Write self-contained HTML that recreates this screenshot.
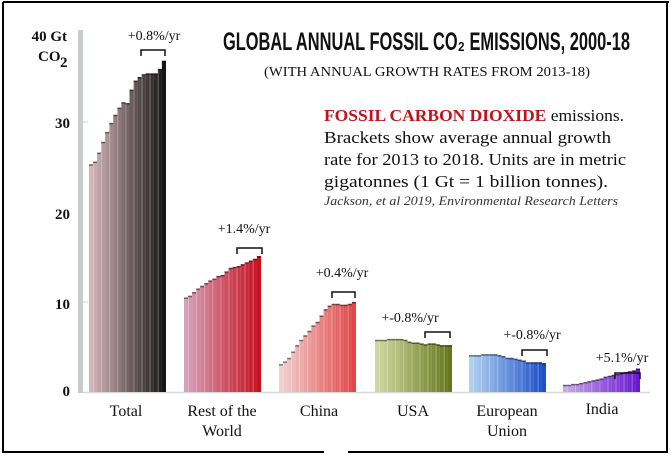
<!DOCTYPE html>
<html><head><meta charset="utf-8"><style>
html,body{margin:0;padding:0;background:#fff}
svg{display:block}
</style></head><body>
<svg id="s" width="671" height="456" viewBox="0 0 671 456" xmlns="http://www.w3.org/2000/svg">
<rect x="0" y="0" width="671" height="456" fill="#fff"/>
<line x1="3" y1="2" x2="669" y2="2" stroke="#000" stroke-width="2"/>
<line x1="3" y1="2" x2="3" y2="453" stroke="#000" stroke-width="2"/>
<line x1="667" y1="2" x2="667" y2="453" stroke="#000" stroke-width="2"/>
<line x1="3" y1="452" x2="324" y2="452" stroke="#000" stroke-width="2"/>
<line x1="348" y1="452" x2="668" y2="452" stroke="#000" stroke-width="2"/>
<rect x="78" y="30" width="5" height="363" fill="#c8cdcb"/>
<line x1="83" y1="392.5" x2="650" y2="392.5" stroke="#d8d8d8" stroke-width="1.5"/>
<line x1="83" y1="302" x2="88" y2="302" stroke="#d0d0d0"/>
<line x1="83" y1="122" x2="88" y2="122" stroke="#d0d0d0"/>
<g id="bars"></g>
<g font-family="Liberation Serif, serif" font-weight="bold" fill="#111">
<text x="67" y="41" font-size="15" text-anchor="end">40 Gt</text>
<text x="38" y="61" font-size="15">CO</text><text x="60" y="67" font-size="15">2</text>
<text x="70" y="128" font-size="15" text-anchor="end">30</text>
<text x="70" y="219" font-size="15" text-anchor="end">20</text>
<text x="70" y="309" font-size="15" text-anchor="end">10</text>
<text x="70" y="396" font-size="15" text-anchor="end">0</text>
</g>
<g font-family="Liberation Serif, serif" font-size="16" fill="#111" text-anchor="middle">
<text x="126" y="416">Total</text>
<text x="222" y="416">Rest of the</text>
<text x="222" y="436">World</text>
<text x="319" y="416">China</text>
<text x="413" y="416">USA</text>
<text x="507" y="416">European</text>
<text x="507" y="436">Union</text>
<text x="602" y="414">India</text>
</g>
<g font-family="Liberation Serif, serif" font-size="14" fill="#111" text-anchor="middle">
<text x="154" y="40">+0.8%/yr</text>
<text x="244" y="233">+1.4%/yr</text>
<text x="342" y="277">+0.4%/yr</text>
<text x="410" y="322">+-0.8%/yr</text>
<text x="532" y="339">+-0.8%/yr</text>
<text x="622" y="362">+5.1%/yr</text>
</g>
<g fill="none" stroke="#111" stroke-width="1.5">
<path d="M141 56V50H165V56"/>
<path d="M237 254V248H262V254"/>
<path d="M332 298V292H355V298"/>
<path d="M425 338V332H450V338"/>
<path d="M522 356V350H547V356"/>
<path d="M615 379V373H640V379"/>
</g>
<text x="223" y="50" font-family="Liberation Sans, sans-serif" font-size="25" font-weight="bold" fill="#111" textLength="407" lengthAdjust="spacingAndGlyphs">GLOBAL ANNUAL FOSSIL CO₂ EMISSIONS, 2000-18</text>
<text x="264" y="76" font-family="Liberation Serif, serif" font-size="14" fill="#111" textLength="326" lengthAdjust="spacingAndGlyphs">(WITH ANNUAL GROWTH RATES FROM 2013-18)</text>
<g font-family="Liberation Serif, serif" font-size="17" fill="#111">
<text x="324" y="121" textLength="300" lengthAdjust="spacingAndGlyphs"><tspan fill="#c0141c" font-weight="bold">FOSSIL CARBON DIOXIDE</tspan> emissions.</text>
<text x="324" y="143" textLength="287" lengthAdjust="spacingAndGlyphs">Brackets show average annual growth</text>
<text x="324" y="165" textLength="302" lengthAdjust="spacingAndGlyphs">rate for 2013 to 2018. Units are in metric</text>
<text x="324" y="187" textLength="284" lengthAdjust="spacingAndGlyphs">gigatonnes (1 Gt = 1 billion tonnes).</text>
<text x="324" y="205" font-size="12.5" font-style="italic" fill="#333" textLength="294" lengthAdjust="spacingAndGlyphs">Jackson, et al 2019, Environmental Research Letters</text>
</g>
</svg>
<script>
var g=document.getElementById('bars');
function hx(c){return [parseInt(c.substr(1,2),16),parseInt(c.substr(3,2),16),parseInt(c.substr(5,2),16)];}
function mix(a,b,t){a=hx(a);b=hx(b);return 'rgb('+a.map(function(v,i){return Math.round(v+(b[i]-v)*t)}).join(',')+')';}
var sets=[
[89,'#d4b4ba','#161616',[25.3,25.6,26.6,27.8,28.9,29.9,30.8,31.6,32.2,32.1,33.6,34.6,35.0,35.3,35.4,35.4,35.4,35.9,36.8]],
[184,'#d6a0b8','#c8101e',[10.5,10.7,11.1,11.5,11.8,12.1,12.4,12.6,12.9,13.0,13.4,13.8,13.9,14.0,14.2,14.4,14.6,14.8,15.1]],
[279,'#f2d0d0','#e04848',[3.1,3.4,3.8,4.5,5.2,5.8,6.3,6.8,7.4,7.8,8.5,9.2,9.6,9.8,9.8,9.7,9.7,9.8,10.0]],
[375,'#d0d8a0','#66771e',[5.8,5.8,5.8,5.9,5.9,5.9,5.9,5.8,5.6,5.5,5.5,5.4,5.3,5.4,5.4,5.3,5.2,5.2,5.2]],
[469,'#b0d0ee','#1e50c8',[4.1,4.1,4.1,4.2,4.2,4.2,4.2,4.1,4.0,3.8,3.8,3.7,3.6,3.5,3.3,3.3,3.3,3.3,3.2]],
[563,'#c8a8e8','#6a18d0',[0.8,0.8,0.9,0.9,1.0,1.1,1.2,1.3,1.4,1.5,1.7,1.8,1.9,2.0,2.1,2.2,2.3,2.4,2.6]]];
var h='';
sets.forEach(function(s){
 s[3].forEach(function(v,i){
  var x=s[0]+i*4.05,y=392-9*v;
  var c=mix(s[1],s[2],i/18);
  h+='<rect x="'+x.toFixed(2)+'" y="'+y.toFixed(1)+'" width="4.1" height="'+(392-y).toFixed(1)+'" fill="'+c+'"/>';
  if(i%2==1)h+='<rect x="'+x.toFixed(2)+'" y="'+y.toFixed(1)+'" width="1" height="'+(392-y).toFixed(1)+'" fill="rgba(255,255,255,0.25)"/>';
  h+='<rect x="'+x.toFixed(2)+'" y="'+y.toFixed(1)+'" width="4.1" height="1.5" fill="rgba(0,0,0,0.45)"/>';
 });
});
g.innerHTML=h;
</script>
</body></html>
